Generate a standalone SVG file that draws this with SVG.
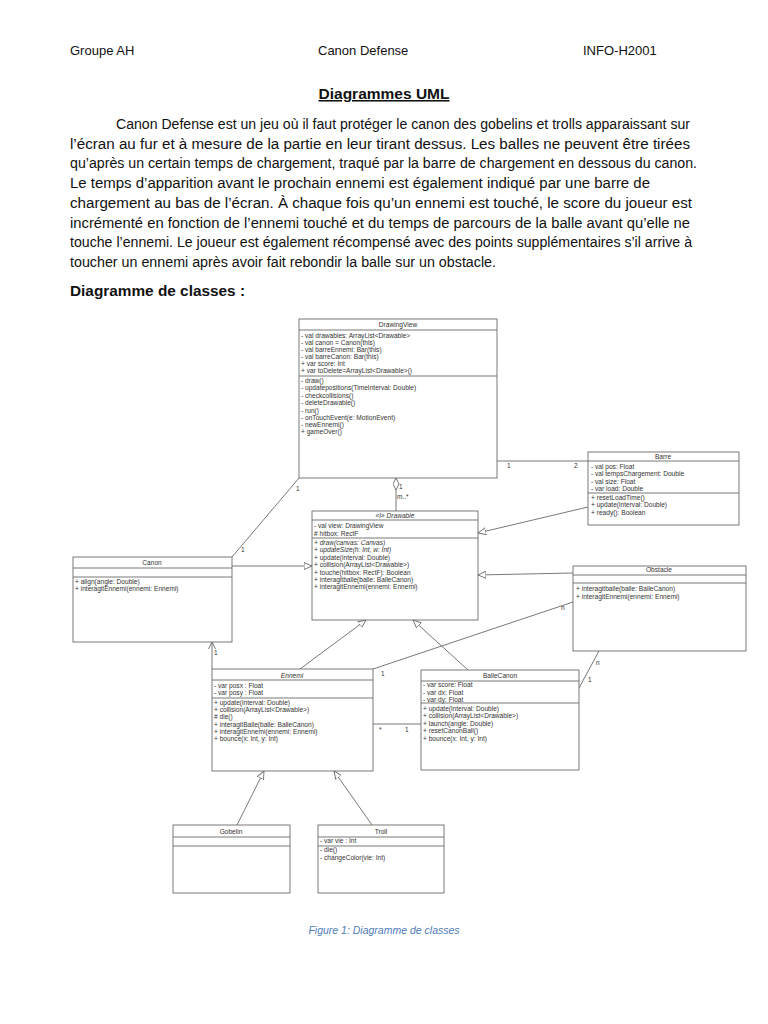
<svg xmlns="http://www.w3.org/2000/svg" width="768" height="1024" viewBox="0 0 768 1024">
<style>
.pg{font-family:"Liberation Sans",Arial,sans-serif;fill:#111}
.hd{font-size:13px}
.p{font-size:14px}
.box{fill:#fff;stroke:#6a6a6a;stroke-width:0.9}
.sep{stroke:#6a6a6a;stroke-width:0.9}
.t{font-family:"Liberation Sans",Arial,sans-serif;font-size:6.6px;fill:#333}
.ti{text-anchor:middle}
.it{font-style:italic}
.cn{stroke:#6a6a6a;stroke-width:0.9;fill:none}
.lb{font-family:"Liberation Sans",Arial,sans-serif;font-size:6.5px;fill:#333}
</style>
<defs>
<marker id="gen" markerUnits="userSpaceOnUse" markerWidth="10" markerHeight="10" refX="8" refY="4" orient="auto"><path d="M0,0.5 L8,4 L0,7.5 z" fill="#fff" stroke="#6a6a6a" stroke-width="0.9"/></marker>
<marker id="dia" markerUnits="userSpaceOnUse" markerWidth="14" markerHeight="8" refX="12" refY="3.5" orient="auto"><path d="M0,3.5 L6,0.5 L12,3.5 L6,6.5 z" fill="#fff" stroke="#6a6a6a" stroke-width="0.9"/></marker>
<marker id="opn" markerUnits="userSpaceOnUse" markerWidth="10" markerHeight="10" refX="7" refY="4" orient="auto"><path d="M0,0.5 L7,4 L0,7.5" fill="none" stroke="#6a6a6a" stroke-width="0.9"/></marker>
</defs>
<rect width="768" height="1024" fill="#fff"/>

<g id="page-text" class="pg">
<text class="hd" x="70" y="55">Groupe AH</text>
<text class="hd" x="318" y="55">Canon Defense</text>
<text class="hd" x="583" y="55">INFO-H2001</text>
<text x="384" y="99" font-size="15.5" font-weight="bold" text-anchor="middle" text-decoration="underline">Diagrammes UML</text>
<text class="p" x="116" y="129" textLength="574" lengthAdjust="spacingAndGlyphs">Canon Defense est un jeu où il faut protéger le canon des gobelins et trolls apparaissant sur</text>
<text class="p" x="70" y="149" textLength="620" lengthAdjust="spacingAndGlyphs">l’écran au fur et à mesure de la partie en leur tirant dessus. Les balles ne peuvent être tirées</text>
<text class="p" x="70" y="168" textLength="627" lengthAdjust="spacingAndGlyphs">qu’après un certain temps de chargement, traqué par la barre de chargement en dessous du canon.</text>
<text class="p" x="70" y="188" textLength="580" lengthAdjust="spacingAndGlyphs">Le temps d’apparition avant le prochain ennemi est également indiqué par une barre de</text>
<text class="p" x="70" y="208" textLength="622" lengthAdjust="spacingAndGlyphs">chargement au bas de l’écran. À chaque fois qu’un ennemi est touché, le score du joueur est</text>
<text class="p" x="70" y="228" textLength="620" lengthAdjust="spacingAndGlyphs">incrémenté en fonction de l’ennemi touché et du temps de parcours de la balle avant qu’elle ne</text>
<text class="p" x="70" y="247" textLength="622" lengthAdjust="spacingAndGlyphs">touche l’ennemi. Le joueur est également récompensé avec des points supplémentaires s’il arrive à</text>
<text class="p" x="70" y="267" textLength="426" lengthAdjust="spacingAndGlyphs">toucher un ennemi après avoir fait rebondir la balle sur un obstacle.</text>
<text x="70" y="296" font-size="15.5" font-weight="bold" textLength="175" lengthAdjust="spacingAndGlyphs">Diagramme de classes :</text>
<text x="384" y="934" font-size="10.5" font-style="italic" text-anchor="middle" style="fill:#4f7cb8">Figure 1: Diagramme de classes</text>
</g>

<g id="connectors">
<line class="cn" x1="497" y1="461" x2="588" y2="461"/>
<line class="cn" x1="396" y1="511" x2="396" y2="478" marker-end="url(#dia)"/>
<line class="cn" x1="299" y1="478" x2="232" y2="557"/>
<line class="cn" x1="232" y1="566" x2="312" y2="566" marker-end="url(#gen)"/>
<line class="cn" x1="588" y1="507" x2="478" y2="533" marker-end="url(#gen)"/>
<line class="cn" x1="573" y1="573" x2="478" y2="575" marker-end="url(#gen)"/>
<line class="cn" x1="300" y1="669" x2="366" y2="620" marker-end="url(#gen)"/>
<line class="cn" x1="468" y1="670" x2="413" y2="620" marker-end="url(#gen)"/>
<line class="cn" x1="373" y1="669" x2="573" y2="602"/>
<line class="cn" x1="212" y1="669" x2="212" y2="642" marker-end="url(#opn)"/>
<line class="cn" x1="373" y1="724" x2="421" y2="724"/>
<line class="cn" x1="599" y1="651" x2="579" y2="688"/>
<line class="cn" x1="237" y1="825" x2="264" y2="771" marker-end="url(#gen)"/>
<line class="cn" x1="372" y1="825" x2="334" y2="771" marker-end="url(#gen)"/>
<text class="lb" x="507" y="468">1</text>
<text class="lb" x="574" y="468">2</text>
<text class="lb" x="399" y="489">1</text>
<text class="lb" x="397" y="499">m..*</text>
<text class="lb" x="296" y="491">1</text>
<text class="lb" x="241" y="552">1</text>
<text class="lb" x="381" y="676">1</text>
<text class="lb" x="561" y="610">n</text>
<text class="lb" x="214" y="655">1</text>
<text class="lb" x="379" y="732">*</text>
<text class="lb" x="405" y="732">1</text>
<text class="lb" x="596" y="665">n</text>
<text class="lb" x="588" y="682">1</text>
</g>

<g id="DrawingView">
<rect class="box" x="299" y="319" width="198" height="159"/>
<line class="sep" x1="299" y1="330" x2="497" y2="330"/>
<line class="sep" x1="299" y1="376" x2="497" y2="376"/>
<text class="t ti" x="398" y="327">DrawingView</text>
<text class="t" x="301" y="338">- val drawables: ArrayList&lt;Drawable&gt;</text>
<text class="t" x="301" y="345">- val canon = Canon(this)</text>
<text class="t" x="301" y="352">- val barreEnnemi: Bar(this)</text>
<text class="t" x="301" y="359">- val barreCanon: Bar(this)</text>
<text class="t" x="301" y="366">+ var score: Int</text>
<text class="t" x="301" y="373">+ var toDelete=ArrayList&lt;Drawable&gt;()</text>
<text class="t" x="301" y="383">- draw()</text>
<text class="t" x="301" y="390">- updatepositions(TimeInterval: Double)</text>
<text class="t" x="301" y="397.5">- checkcollisions()</text>
<text class="t" x="301" y="405">- deleteDrawable()</text>
<text class="t" x="301" y="412.5">- run()</text>
<text class="t" x="301" y="420">- onTouchEvent(e: MotionEvent)</text>
<text class="t" x="301" y="427">- newEnnemi()</text>
<text class="t" x="301" y="434">+ gameOver()</text>
</g>

<g id="Barre">
<rect class="box" x="588" y="452" width="151" height="73"/>
<line class="sep" x1="588" y1="461" x2="739" y2="461"/>
<line class="sep" x1="588" y1="493" x2="739" y2="493"/>
<text class="t ti" x="663" y="459">Barre</text>
<text class="t" x="591" y="469">- val pos: Float</text>
<text class="t" x="591" y="476">- val tempsChargement: Double</text>
<text class="t" x="591" y="483.5">- val size: Float</text>
<text class="t" x="591" y="490.5">- var load: Double</text>
<text class="t" x="591" y="499.5">+ resetLoadTime()</text>
<text class="t" x="591" y="507">+ update(interval: Double)</text>
<text class="t" x="591" y="514.5">+ ready(): Boolean</text>
</g>

<g id="Drawable">
<rect class="box" x="312" y="511" width="166" height="109"/>
<line class="sep" x1="312" y1="520" x2="478" y2="520"/>
<line class="sep" x1="312" y1="538" x2="478" y2="538"/>
<text class="t ti it" x="395" y="518">«I» Drawable</text>
<text class="t" x="314" y="528">- val view: DrawingView</text>
<text class="t" x="314" y="535.5"># hitbox: RectF</text>
<text class="t it" x="314" y="545">+ draw(canvas: Canvas)</text>
<text class="t it" x="314" y="552">+ updateSize(h: Int, w: Int)</text>
<text class="t" x="314" y="559.5">+ update(interval: Double)</text>
<text class="t" x="314" y="567">+ collision(ArrayList&lt;Drawable&gt;)</text>
<text class="t" x="314" y="574.5">+ touche(hitbox: RectF): Boolean</text>
<text class="t" x="314" y="582">+ interagitballe(balle: BalleCanon)</text>
<text class="t" x="314" y="589">+ interagitEnnemi(ennemi: Ennemi)</text>
</g>

<g id="Canon">
<rect class="box" x="73" y="557" width="159" height="85"/>
<line class="sep" x1="73" y1="568" x2="232" y2="568"/>
<line class="sep" x1="73" y1="577" x2="232" y2="577"/>
<text class="t ti" x="152" y="565">Canon</text>
<text class="t" x="75" y="584">+ align(angle: Double)</text>
<text class="t" x="75" y="591">+ interagitEnnemi(ennemi: Ennemi)</text>
</g>

<g id="Obstacle">
<rect class="box" x="573" y="566" width="173" height="85"/>
<line class="sep" x1="573" y1="575" x2="746" y2="575"/>
<line class="sep" x1="573" y1="583" x2="746" y2="583"/>
<text class="t ti" x="659" y="572">Obstacle</text>
<text class="t" x="576" y="591">+ interagitballe(balle: BalleCanon)</text>
<text class="t" x="576" y="598.5">+ interagitEnnemi(ennemi: Ennemi)</text>
</g>

<g id="Ennemi">
<rect class="box" x="212" y="669" width="161" height="102"/>
<line class="sep" x1="212" y1="680" x2="373" y2="680"/>
<line class="sep" x1="212" y1="698" x2="373" y2="698"/>
<text class="t ti it" x="292" y="678">Ennemi</text>
<text class="t" x="214" y="688">- var posx : Float</text>
<text class="t" x="214" y="694.5">- var posy : Float</text>
<text class="t" x="214" y="704.5">+ update(interval: Double)</text>
<text class="t" x="214" y="711.5">+ collision(ArrayList&lt;Drawable&gt;)</text>
<text class="t" x="214" y="719"># die()</text>
<text class="t" x="214" y="726.5">+ interagitBalle(balle: BalleCanon)</text>
<text class="t" x="214" y="734">+ interagitEnnemi(ennemi: Ennemi)</text>
<text class="t" x="214" y="741">+ bounce(x: Int, y: Int)</text>
</g>

<g id="BalleCanon">
<rect class="box" x="421" y="670" width="158" height="100"/>
<line class="sep" x1="421" y1="681" x2="579" y2="681"/>
<line class="sep" x1="421" y1="703" x2="579" y2="703"/>
<text class="t ti" x="500" y="678">BalleCanon</text>
<text class="t" x="423" y="687">- var score: Float</text>
<text class="t" x="423" y="694.5">- var dx: Float</text>
<text class="t" x="423" y="701.5">- var dy: Float</text>
<text class="t" x="423" y="710.5">+ update(interval: Double)</text>
<text class="t" x="423" y="718">+ collision(ArrayList&lt;Drawable&gt;)</text>
<text class="t" x="423" y="725.5">+ launch(angle: Double)</text>
<text class="t" x="423" y="733">+ resetCanonBall()</text>
<text class="t" x="423" y="740.5">+ bounce(x: Int, y: Int)</text>
</g>

<g id="Gobelin">
<rect class="box" x="173" y="825" width="117" height="68"/>
<line class="sep" x1="173" y1="837" x2="290" y2="837"/>
<line class="sep" x1="173" y1="846" x2="290" y2="846"/>
<text class="t ti" x="231" y="834">Gobelin</text>
</g>

<g id="Troll">
<rect class="box" x="318" y="825" width="126" height="68"/>
<line class="sep" x1="318" y1="837" x2="444" y2="837"/>
<line class="sep" x1="318" y1="846" x2="444" y2="846"/>
<text class="t ti" x="381" y="834">Troll</text>
<text class="t" x="320" y="842.5">- var vie : Int</text>
<text class="t" x="320" y="851.5">- die()</text>
<text class="t" x="320" y="860">- changeColor(vie: Int)</text>
</g>
</svg>
